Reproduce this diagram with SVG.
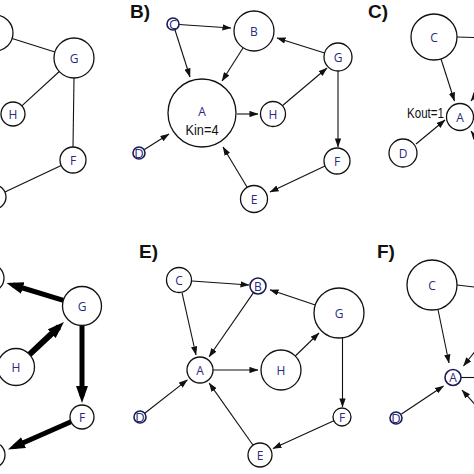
<svg xmlns="http://www.w3.org/2000/svg" width="474" height="474" viewBox="0 0 474 474">
<style>
.n{fill:#fff;stroke:#111;stroke-width:1.3}
.s{fill:#fff;stroke:#1c1c55;stroke-width:1.6}
.t{font-family:"Open Sans","Liberation Sans",sans-serif;font-size:12px;fill:#2a2a80;text-anchor:middle}
.ts{font-family:"Open Sans","Liberation Sans",sans-serif;font-size:13px;fill:#2a2a80;text-anchor:middle}
.k{font-family:"Liberation Sans",Arial,sans-serif;font-size:14px;fill:#111}
.p{font-family:"Liberation Sans",Arial,sans-serif;font-size:19px;font-weight:bold;fill:#111}
.e{stroke:#111;stroke-width:1.1;fill:none}
.a{stroke:#111;stroke-width:1.1;fill:none;marker-end:url(#ah)}
.w{stroke:#000;stroke-width:5;fill:none;marker-end:url(#ahw)}
</style>
<defs>
<marker id="ah" viewBox="0 0 10 7" refX="9.5" refY="3.5" markerWidth="9" markerHeight="6.5" markerUnits="userSpaceOnUse" orient="auto"><path d="M0,0 L10,3.5 L0,7 z" fill="#111"/></marker>
<marker id="ahw" viewBox="0 0 10 7" refX="6" refY="3.5" markerWidth="17" markerHeight="12" markerUnits="userSpaceOnUse" orient="auto"><path d="M0,0 L10,3.5 L0,7 z" fill="#000"/></marker>
</defs>

<!-- panel labels -->
<text class="p" x="130" y="18">B)</text>
<text class="p" x="368" y="18">C)</text>
<text class="p" x="139" y="258">E)</text>
<text class="p" x="377" y="258">F)</text>

<g id="connectors">
<!-- Panel A -->
<line class="e" x1="12.2" y1="38.4" x2="54.9" y2="52"/>
<line class="e" x1="59.3" y1="71.5" x2="21.8" y2="105.9"/>
<line class="e" x1="74" y1="78" x2="73" y2="147"/>
<line class="e" x1="61.2" y1="165.5" x2="4.9" y2="191.9"/>
<!-- Panel B -->
<line class="a" x1="179" y1="24.5" x2="231" y2="28"/>
<line class="a" x1="175" y1="30" x2="190" y2="77"/>
<line class="a" x1="243" y1="48" x2="222" y2="81"/>
<line class="a" x1="237" y1="114" x2="258" y2="114"/>
<line class="a" x1="324.6" y1="53" x2="277" y2="38"/>
<line class="a" x1="282" y1="106" x2="327" y2="68"/>
<line class="a" x1="338" y1="71" x2="338" y2="147"/>
<line class="a" x1="325" y1="166" x2="270" y2="192"/>
<line class="a" x1="247" y1="187" x2="223" y2="147"/>
<line class="a" x1="144" y1="149.8" x2="169" y2="134"/>
<!-- Panel C -->
<line class="a" x1="441" y1="59" x2="454.5" y2="101"/>
<line class="a" x1="416" y1="144" x2="445" y2="120"/>
<line class="a" x1="488" y1="78" x2="471" y2="101"/>
<line class="a" x1="488" y1="155" x2="471" y2="131"/>
<line class="e" x1="457" y1="37" x2="474" y2="37.5"/>
<!-- Panel D -->
<line class="w" x1="63.4" y1="300.3" x2="13" y2="285"/>
<line class="w" x1="29.6" y1="354.4" x2="59" y2="326.7" style="stroke-width:6"/>
<line class="w" x1="82" y1="326" x2="82" y2="396.2"/>
<line class="w" x1="71" y1="421.7" x2="14.2" y2="446.8"/>
<!-- Panel E -->
<line class="a" x1="192" y1="281" x2="249" y2="285"/>
<line class="a" x1="182" y1="292.7" x2="196" y2="355"/>
<line class="a" x1="253.5" y1="292.6" x2="209.1" y2="356.8"/>
<line class="a" x1="315.3" y1="305.1" x2="270" y2="289.8"/>
<line class="a" x1="213" y1="370" x2="258" y2="370"/>
<line class="a" x1="295.3" y1="356" x2="319" y2="333"/>
<line class="a" x1="342.5" y1="337.8" x2="342.5" y2="407"/>
<line class="a" x1="333.8" y1="420.8" x2="273" y2="448.5"/>
<line class="a" x1="253.1" y1="445.2" x2="209.2" y2="383.1"/>
<line class="a" x1="144.7" y1="413.3" x2="187.4" y2="379.9"/>
<!-- Panel F -->
<line class="a" x1="438" y1="309.5" x2="449" y2="363"/>
<line class="a" x1="401.5" y1="414" x2="443.5" y2="386"/>
<line class="a" x1="480" y1="345" x2="463.5" y2="366"/>
<line class="a" x1="480" y1="410" x2="462" y2="390"/>
<line class="e" x1="461" y1="377.5" x2="474" y2="377.5"/>
<line class="e" x1="457" y1="285" x2="474" y2="287"/>
</g>

<!-- Panel A nodes -->
<g id="a-tl"><circle class="n" cx="-5" cy="33" r="18"/></g>
<g id="a-G"><circle class="n" cx="74" cy="58" r="20"/><text class="t" x="74" y="62.5">G</text></g>
<g id="a-H"><circle class="n" cx="13" cy="114" r="12"/><text class="t" x="13" y="118.5">H</text></g>
<g id="a-F"><circle class="n" cx="73" cy="160" r="13"/><text class="t" x="73" y="164.5">F</text></g>
<g id="a-bl"><circle class="n" cx="-6" cy="197" r="12"/></g>

<!-- Panel B nodes -->
<g id="b-C"><circle class="s" cx="173" cy="24" r="6"/><text class="ts" x="173" y="28.5">C</text></g>
<g id="b-B"><circle class="n" cx="254" cy="31" r="20"/><text class="t" x="254" y="35.5">B</text></g>
<g id="b-A"><circle class="n" cx="202" cy="113" r="34"/><text class="t" x="202" y="116">A</text><text class="k" x="202" y="134.5" text-anchor="middle" textLength="33" lengthAdjust="spacingAndGlyphs">Kin=4</text></g>
<g id="b-H"><circle class="n" cx="273" cy="114" r="12.5"/><text class="t" x="273" y="118.5">H</text></g>
<g id="b-D"><circle class="s" cx="139" cy="153" r="6"/><text class="ts" x="139" y="157.5">D</text></g>
<g id="b-E"><circle class="n" cx="254" cy="199" r="13.5"/><text class="t" x="254" y="203.5">E</text></g>
<g id="b-G"><circle class="n" cx="338" cy="57" r="14"/><text class="t" x="338" y="61.5">G</text></g>
<g id="b-F"><circle class="n" cx="337" cy="161" r="13"/><text class="t" x="337" y="165.5">F</text></g>

<!-- Panel C nodes -->
<g id="c-C"><circle class="n" cx="434" cy="37" r="23"/><text class="t" x="434" y="41.5">C</text></g>
<g id="c-A"><circle class="n" cx="460" cy="117" r="13.5"/><text class="t" x="460" y="121.5">A</text><text class="k" x="444" y="118" text-anchor="end" textLength="37" lengthAdjust="spacingAndGlyphs">Kout=1</text></g>
<g id="c-D"><circle class="n" cx="403" cy="153" r="14"/><text class="t" x="403" y="157.5">D</text></g>

<!-- Panel D nodes -->
<g id="d-tl"><circle class="n" cx="-10" cy="278" r="14"/></g>
<g id="d-G"><circle class="n" cx="82" cy="306" r="19.5"/><text class="t" x="82" y="310.5">G</text></g>
<g id="d-H"><circle class="n" cx="16" cy="367" r="18.5"/><text class="t" x="16" y="371.5">H</text></g>
<g id="d-F"><circle class="n" cx="82" cy="417" r="12"/><text class="t" x="82" y="421.5">F</text></g>
<g id="d-bl"><circle class="n" cx="-8" cy="455" r="13"/></g>

<!-- Panel E nodes -->
<g id="e-C"><circle class="n" cx="179" cy="280" r="12.5"/><text class="t" x="179" y="284.5">C</text></g>
<g id="e-B"><circle class="s" cx="258" cy="286" r="8"/><text class="t" x="258" y="290.5">B</text></g>
<g id="e-G"><circle class="n" cx="339" cy="313" r="25"/><text class="t" x="339" y="317.5">G</text></g>
<g id="e-A"><circle class="n" cx="200" cy="370" r="13"/><text class="t" x="200" y="374.5">A</text></g>
<g id="e-H"><circle class="n" cx="281" cy="370" r="20"/><text class="t" x="281" y="374.5">H</text></g>
<g id="e-D"><circle class="s" cx="140" cy="417" r="6"/><text class="ts" x="140" y="421.5">D</text></g>
<g id="e-F"><circle class="n" cx="342" cy="417" r="9"/><text class="t" x="342" y="421.5">F</text></g>
<g id="e-E"><circle class="n" cx="260" cy="455" r="12"/><text class="t" x="260" y="459.5">E</text></g>

<!-- Panel F nodes -->
<g id="f-C"><circle class="n" cx="432" cy="285" r="25"/><text class="t" x="432" y="289.5">C</text></g>
<g id="f-A"><circle class="s" cx="453" cy="377.5" r="8"/><text class="t" x="453" y="382">A</text></g>
<g id="f-D"><circle class="s" cx="396" cy="418" r="6"/><text class="ts" x="396" y="422.5">D</text></g>
</svg>
